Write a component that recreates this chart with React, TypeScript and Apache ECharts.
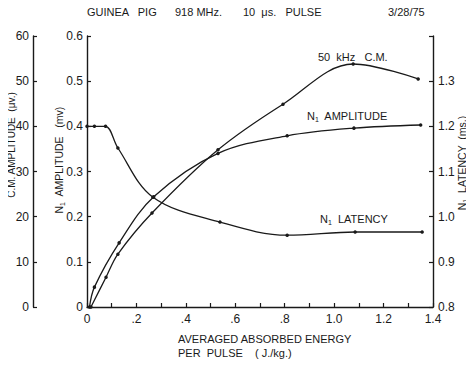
import React, { useEffect, useRef } from "react";
import * as echarts from "echarts";

// Energy (J/kg) and values
const energyN1 = [0.01, 0.03, 0.13, 0.27, 0.53, 0.81, 1.08, 1.35];
const n1Amp = [0, 0.044, 0.142, 0.244, 0.34, 0.379, 0.396, 0.403];
const energyCM = [0.016, 0.077, 0.125, 0.263, 0.53, 0.793, 1.077, 1.34];
const cmAmp = [0, 6.6, 11.7, 20.8, 34.8, 44.9, 53.8, 50.5];
const energyLat = [0, 0.03, 0.075, 0.125, 0.267, 0.538, 0.81, 1.085, 1.356];
const latency = [1.2, 1.2, 1.2, 1.152, 1.043, 0.988, 0.959, 0.966, 0.966];

const titleParts = ["GUINEA   PIG", "918 MHz.", "10  μs.   PULSE", "3/28/75"];

const FONT = "Liberation Sans";
const INK = "#1a1a1a";

export default function App() {
  const ref = useRef<HTMLDivElement>(null);
  useEffect(() => {
    if (!ref.current) return;
    const chart = echarts.init(ref.current, undefined, { renderer: "svg" });
    const pairs = (xs: number[], ys: number[]) => xs.map((x, i) => [x, ys[i]]);
    const axisLine = { show: true, lineStyle: { color: INK, width: 1.4 } };
    const tick = { show: true, inside: true, length: 4, lineStyle: { color: INK, width: 1.2 } };
    const lbl = { color: INK, fontFamily: FONT, fontSize: 12 };
    const sub = { s: { fontSize: 7, padding: [6, 0, 0, 0], fill: INK, fontFamily: FONT } };
    const lineSeries = (data: number[][], yAxisIndex: number) => ({
      type: "line",
      data,
      yAxisIndex,
      smooth: 0.35,
      symbol: "circle",
      symbolSize: 3.5,
      itemStyle: { color: INK },
      lineStyle: { color: INK, width: 1.3 },
    });
    const txt = (x: number, y: number, text: string, extra: any = {}) => ({
      type: "text",
      x,
      y,
      style: {
        text,
        fill: INK,
        font: `11px "${FONT}"`,
        textVerticalAlign: "middle",
        ...extra,
      },
    });
    const vname = (x: number, y: number, text: string, rich: boolean, size = 10.5) => ({
      type: "text",
      x,
      y,
      rotation: Math.PI / 2,
      style: {
        text,
        fill: INK,
        font: `${size}px "${FONT}"`,
        textAlign: "center",
        textVerticalAlign: "middle",
        ...(rich ? { rich: sub } : {}),
      },
    });
    const titleX = [87, 175, 243, 388];
    chart.setOption({
      animation: false,
      backgroundColor: "#ffffff",
      grid: { left: 87, right: 41, top: 36, bottom: 64 },
      xAxis: {
        type: "value",
        min: 0,
        max: 1.4,
        interval: 0.1,
        axisLine,
        axisTick: tick,
        splitLine: { show: false },
        axisLabel: {
          ...lbl,
          margin: 6,
          formatter: (v: number) => {
            const k = Math.round(v * 10);
            if (k % 2 !== 0) return "";
            if (k === 0) return "0";
            if (k < 10) return "." + k;
            return (k / 10).toFixed(1);
          },
        },
      },
      yAxis: [
        {
          type: "value",
          min: 0,
          max: 0.6,
          interval: 0.1,
          position: "left",
          axisLine,
          axisTick: tick,
          splitLine: { show: false },
          axisLabel: {
            ...lbl,
            margin: 4,
            formatter: (v: number) => (v === 0 ? "0" : v.toFixed(1)),
          },
        },
        {
          type: "value",
          min: 0,
          max: 60,
          interval: 10,
          position: "left",
          offset: 54,
          axisLine,
          axisTick: tick,
          splitLine: { show: false },
          axisLabel: { ...lbl, margin: 4 },
        },
        {
          type: "value",
          min: 0.8,
          max: 1.4,
          interval: 0.1,
          position: "right",
          axisLine,
          axisTick: tick,
          splitLine: { show: false },
          axisLabel: {
            ...lbl,
            margin: 5,
            formatter: (v: number) => (Math.abs(v - 1.4) < 1e-6 ? "" : v.toFixed(1)),
          },
        },
      ],
      series: [
        lineSeries(pairs(energyN1, n1Amp), 0),
        lineSeries(pairs(energyCM, cmAmp), 1),
        lineSeries(pairs(energyLat, latency), 2),
      ],
      graphic: [
        ...titleParts.map((t, i) => txt(titleX[i], 12, t)),
        txt(318, 57, "50  kHz   C.M."),
        txt(307, 116, "N{s|1}  AMPLITUDE", { rich: sub }),
        txt(320, 219, "N{s|1}  LATENCY", { rich: sub }),
        vname(11, 145, "C.M. AMPLITUDE  (μv.)", false, 10),
        vname(59, 160, "N{s|1}  AMPLITUDE   (mv)", true),
        vname(462, 163, "N{s|1}  LATENCY  (ms.)", true),
        txt(178, 339, "AVERAGED ABSORBED ENERGY"),
        txt(178, 353, "PER  PULSE    ( J./kg.)"),
      ],
    });
    return () => chart.dispose();
  }, []);
  return <div ref={ref} style={{ width: 474, height: 371, margin: -8 }} />;
}
